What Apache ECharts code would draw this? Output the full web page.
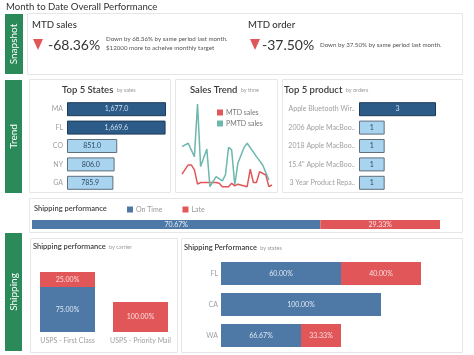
<!DOCTYPE html>
<html><head><meta charset="utf-8">
<script src="https://cdn.jsdelivr.net/npm/echarts@6/dist/echarts.min.js"></script>
<style>html,body{margin:0;padding:0;background:#fff}#c{width:474px;height:355px}</style>
</head><body><div id="c"></div>
<script>
// ---- data ----
const kpiNames = ['MTD sales', 'MTD order'];
const kpiValues = ['-68.36%', '-37.50%'];
const kpiNotes = [
  ['Down by 68.36% by same period last month.', '$12000 more to acheive monthly target'],
  ['Down by 37.50% by same period last month.']
];
const stateNames = ['MA', 'FL', 'CO', 'NY', 'GA'];
const stateSales = [1677.0, 1669.6, 851.0, 806.0, 785.9];
const productNames = ['Apple Bluetooth Wir..', '2006 Apple MacBoo..', '2018 Apple MacBoo..', '15.4" Apple MacBoo..', '3 Year Product Repa..'];
const productOrders = [3, 1, 1, 1, 1];
const mtdDays = [1, 3, 4, 5, 6, 7, 9, 12, 13, 14, 16, 17, 18, 19, 22, 23, 24, 25, 26, 28, 29, 30];
const mtdSales = [190, 300, 300, 240, 70, 90, 90, 90, 80, 40, 40, 80, 50, 70, 40, 250, 90, 90, 220, 180, 40, 60];
const pmtdDays = [1, 3, 5, 6, 7, 9, 10, 12, 14, 15, 16, 17, 18, 19, 21, 22, 25, 27, 29];
const pmtdSales = [520, 560, 400, 1030, 280, 490, 40, 160, 110, 180, 510, 480, 60, 320, 510, 560, 400, 300, 120];
const shipOnTimePct = [70.67];
const shipLatePct = [29.33];
const carriers = ['USPS - First Class', 'USPS - Priority Mail'];
const carrierOnTime = [3, 0];
const carrierLate = [1, 2];
const shipStates = ['FL', 'CA', 'WA'];
const shipStateOnTime = [3, 4, 2];
const shipStateLate = [2, 0, 1];

// ---- style ----
const FONT = 'Lato';
const BLUE = '#4e79a7', RED = '#e15759', TEAL = '#6cb8ad', GREEN = '#2a8a5a';
const DARK = '#2c5b88', LIGHT = '#a9d4ef';
const GRAY = '#a0a0a0';

function panel(x, y, w, h) {
  return { type: 'rect', shape: { x: x, y: y, width: w, height: h }, style: { fill: '#fff', stroke: '#e6e6e6', lineWidth: 1 }, z: -10 };
}
function side(x, y, w, h, label) {
  return [
    { type: 'rect', shape: { x: x, y: y, width: w, height: h }, style: { fill: GREEN }, z: -5 },
    { type: 'text', x: x + w / 2, y: y + h / 2, rotation: Math.PI / 2,
      style: { text: label, fill: '#fff', font: 'normal 10px ' + FONT, align: 'center', verticalAlign: 'middle' } }
  ];
}
function txt(x, y, text, size, color, weight, va) {
  return { type: 'text', x: x, y: y, style: { text: text, fill: color, font: (weight || 'normal') + ' ' + size + 'px ' + FONT, verticalAlign: va || 'middle' } };
}
function ttl(x, y, main, sub, size) {
  return { type: 'text', x: x, y: y, style: {
    text: '{a|' + main + '} {b|' + sub + '}', verticalAlign: 'middle',
    rich: { a: { fontSize: size, fontWeight: 600, fill: '#3a3a3a', fontFamily: FONT },
            b: { fontSize: 5.5, fill: '#9a9a9a', fontFamily: FONT } } } };
}
function tri(x, y) {
  return { type: 'polygon', shape: { points: [[x, y], [x + 10, y], [x + 5, y + 11]] }, style: { fill: RED } };
}

const graphics = [
  txt(6, 7, 'Month to Date Overall Performance', 9.6, '#333', 'normal'),
  panel(27.5, 13.5, 435, 61),
  panel(29.5, 79.5, 141, 113),
  panel(175.5, 79.5, 102, 113),
  panel(282.5, 79.5, 180, 113),
  panel(29.5, 198.5, 433, 34),
  panel(30.5, 238.5, 147, 114),
  panel(181.5, 238.5, 281, 114),
  ...side(5, 14, 18, 60, 'Snapshot'),
  ...side(5, 80, 17, 113, 'Trend'),
  ...side(5, 233, 17, 118, 'Shipping'),
  txt(32, 25, kpiNames[0], 9.6, '#333', '500'),
  tri(33, 39),
  txt(48, 45, kpiValues[0], 14, '#333'),
  txt(106, 39.5, kpiNotes[0][0], 6.2, '#555'),
  txt(106, 48, kpiNotes[0][1], 6.2, '#555'),
  txt(248, 25, kpiNames[1], 9.6, '#333', '500'),
  tri(250, 39),
  txt(262, 45, kpiValues[1], 14, '#333'),
  txt(320, 45, kpiNotes[1][0], 6.2, '#555'),
  ttl(62, 90, 'Top 5 States', 'by sales', 9.5),
  ttl(190, 90, 'Sales Trend', 'by time', 9.5),
  ttl(284, 90, 'Top 5 product', 'by orders', 9.5),
  txt(34, 209, 'Shipping performance', 7.5, '#444', '600'),
  ttl(33, 247, 'Shipping performance', 'by carrier', 7.5),
  ttl(184, 248, 'Shipping Performance', 'by states', 7.5)
];

const catAxis = (idx, data, inverse) => ({
  type: 'category', gridIndex: idx, data: data, inverse: inverse,
  axisLine: { show: false }, axisTick: { show: false },
  axisLabel: { color: GRAY, fontSize: 7, fontFamily: FONT, margin: 4, interval: 0, hideOverlap: false }
});
const valAxis = (idx, max, min) => ({ type: 'value', gridIndex: idx, min: min || 0, max: max, show: false });

const darkOrLight = (v, thr) => v > thr;

const option = {
  animation: false,
  textStyle: { fontFamily: FONT },
  graphic: graphics,
  legend: [
    { data: ['MTD sales', 'PMTD sales'], orient: 'vertical', left: 212, top: 104, itemWidth: 6, itemHeight: 6, itemGap: 4, icon: 'rect',
      textStyle: { fontSize: 7, color: '#777', fontFamily: FONT, padding: [0, 0, 0, -2] } },
    { data: ['On Time', 'Late'], orient: 'horizontal', left: 122, top: 201, itemWidth: 6, itemHeight: 6, itemGap: 20, icon: 'rect',
      textStyle: { fontSize: 7, color: '#999', fontFamily: FONT, padding: [0, 0, 0, -2] } }
  ],
  grid: [
    { left: 67, top: 100, width: 99, height: 92 },
    { left: 182, top: 104, width: 90, height: 86 },
    { left: 359, top: 100, width: 77, height: 92 },
    { left: 32, top: 220, width: 408, height: 9 },
    { left: 31, top: 272, width: 146, height: 60 },
    { left: 221, top: 258, width: 200, height: 93 }
  ],
  xAxis: [
    valAxis(0, 1677),
    valAxis(1, 30, 1),
    valAxis(2, 3),
    valAxis(3, 100),
    Object.assign(catAxis(4, carriers, false), { axisLabel: { color: GRAY, fontSize: 7, fontFamily: FONT, margin: 5, interval: 0, hideOverlap: false } }),
    valAxis(5, 5)
  ],
  yAxis: [
    catAxis(0, stateNames, true),
    valAxis(1, 1030),
    catAxis(2, productNames, true),
    { type: 'category', gridIndex: 3, data: ['All'], show: false },
    valAxis(4, 4),
    Object.assign(catAxis(5, shipStates, true), { axisLabel: { color: GRAY, fontSize: 7, fontFamily: FONT, margin: 3, interval: 0 } })
  ],
  series: [
    { type: 'bar', name: 'Sales', xAxisIndex: 0, yAxisIndex: 0, barWidth: 14,
      data: stateSales.map(v => ({ value: v,
        itemStyle: { color: darkOrLight(v, 1000) ? DARK : LIGHT, borderColor: darkOrLight(v, 1000) ? '#1d3b58' : '#5f6f7c', borderWidth: 1 },
        label: { color: darkOrLight(v, 1000) ? '#cfdeee' : '#2c4660' } })),
      label: { show: true, position: 'inside', fontSize: 7, fontFamily: FONT,
        formatter: p => p.value.toLocaleString('en-US', { minimumFractionDigits: 1, maximumFractionDigits: 1 }) } },
    { type: 'line', name: 'MTD sales', xAxisIndex: 1, yAxisIndex: 1, showSymbol: false, symbol: 'none',
      lineStyle: { color: RED, width: 1.5 }, itemStyle: { color: RED },
      data: mtdDays.map((d, i) => [d, mtdSales[i]]) },
    { type: 'line', name: 'PMTD sales', xAxisIndex: 1, yAxisIndex: 1, showSymbol: false, symbol: 'none',
      lineStyle: { color: TEAL, width: 1.5 }, itemStyle: { color: TEAL },
      data: pmtdDays.map((d, i) => [d, pmtdSales[i]]) },
    { type: 'bar', name: 'Orders', xAxisIndex: 2, yAxisIndex: 2, barWidth: 14,
      data: productOrders.map(v => ({ value: v,
        itemStyle: { color: darkOrLight(v, 2) ? DARK : LIGHT, borderColor: darkOrLight(v, 2) ? '#1d3b58' : '#5f6f7c', borderWidth: 1 },
        label: { color: darkOrLight(v, 2) ? '#cfdeee' : '#2c4660' } })),
      label: { show: true, position: 'inside', fontSize: 7, fontFamily: FONT } },
    { type: 'bar', name: 'On Time', stack: 'all', xAxisIndex: 3, yAxisIndex: 3, barWidth: 9, itemStyle: { color: BLUE },
      data: shipOnTimePct, label: { show: true, position: 'inside', color: '#e6edf5', fontSize: 7, fontFamily: FONT, formatter: p => p.value.toFixed(2) + '%' } },
    { type: 'bar', name: 'Late', stack: 'all', xAxisIndex: 3, yAxisIndex: 3, barWidth: 9, itemStyle: { color: RED },
      data: shipLatePct, label: { show: true, position: 'inside', color: '#f8e0e0', fontSize: 7, fontFamily: FONT, formatter: p => p.value.toFixed(2) + '%' } },
    { type: 'bar', name: 'On Time', stack: 'carrier', xAxisIndex: 4, yAxisIndex: 4, barWidth: 55, itemStyle: { color: BLUE },
      data: carrierOnTime, label: { show: true, position: 'inside', color: '#dde6f0', fontSize: 7, fontFamily: FONT,
        formatter: p => p.value ? (p.value / (carrierOnTime[p.dataIndex] + carrierLate[p.dataIndex]) * 100).toFixed(2) + '%' : '' } },
    { type: 'bar', name: 'Late', stack: 'carrier', xAxisIndex: 4, yAxisIndex: 4, barWidth: 55, itemStyle: { color: RED },
      data: carrierLate, label: { show: true, position: 'inside', color: '#f8dcdc', fontSize: 7, fontFamily: FONT,
        formatter: p => p.value ? (p.value / (carrierOnTime[p.dataIndex] + carrierLate[p.dataIndex]) * 100).toFixed(2) + '%' : '' } },
    { type: 'bar', name: 'On Time', stack: 'st', xAxisIndex: 5, yAxisIndex: 5, barWidth: 23, itemStyle: { color: BLUE },
      data: shipStateOnTime, label: { show: true, position: 'inside', color: '#dde6f0', fontSize: 7, fontFamily: FONT,
        formatter: p => p.value ? (p.value / (shipStateOnTime[p.dataIndex] + shipStateLate[p.dataIndex]) * 100).toFixed(2) + '%' : '' } },
    { type: 'bar', name: 'Late', stack: 'st', xAxisIndex: 5, yAxisIndex: 5, barWidth: 23, itemStyle: { color: RED },
      data: shipStateLate, label: { show: true, position: 'inside', color: '#f8dcdc', fontSize: 7, fontFamily: FONT,
        formatter: p => p.value ? (p.value / (shipStateOnTime[p.dataIndex] + shipStateLate[p.dataIndex]) * 100).toFixed(2) + '%' : '' } }
  ]
};
const chart = echarts.init(document.getElementById('c'), null, { renderer: 'canvas' });
chart.setOption(option);
</script></body></html>
